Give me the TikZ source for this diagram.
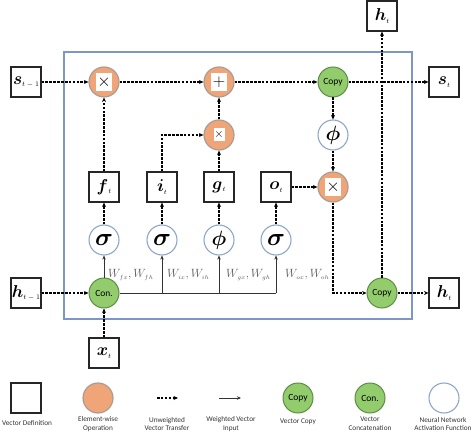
\documentclass[tikz,border=0pt]{standalone}
\usepackage{amsmath}
\usepackage{fontspec}
\newfontfamily\carl{Carlito}
\usetikzlibrary{arrows.meta}
\definecolor{ewfill}{HTML}{F0A578}
\definecolor{ewdraw}{HTML}{A89C94}
\definecolor{cpfill}{HTML}{92CC6C}
\definecolor{cpdraw}{HTML}{5E8C45}
\definecolor{actdraw}{HTML}{8EA6C8}
\definecolor{cellblue}{HTML}{7D95C8}
\definecolor{wgray}{HTML}{5A5A5A}
\newcommand\vb[2]{{\LARGE$\boldsymbol{#1}$}\raisebox{-2.5pt}{\scriptsize$#2$}}
\tikzset{
  vec/.style={draw=black!85, line width=1.2pt, fill=white, minimum size=30bp, inner sep=0pt},
  ew/.style={circle, draw=ewdraw, line width=1.2pt, fill=ewfill, minimum size=30bp, inner sep=0pt},
  wbox/.style={fill=white, inner sep=0pt, minimum width=16bp, minimum height=18bp},
  wsmall/.style={fill=white, inner sep=0pt, minimum width=11bp, minimum height=13bp},
  cp/.style={circle, draw=cpdraw, line width=1pt, fill=cpfill, minimum size=30bp, inner sep=0pt, font=\carl\fontsize{9.5}{9.5}\selectfont},
  act/.style={circle, draw=actdraw, line width=1.1pt, fill=white, minimum size=30bp, inner sep=0pt},
  dsh/.style={line width=1.2pt, dash pattern=on 2.6pt off 1.3pt, -{Stealth[length=4.5pt,width=4pt]}},
  wt/.style={line width=0.8pt, black!80, -{Stealth[length=4pt,width=3.5pt]}},
  wline/.style={line width=0.8pt, black!80},
  wl/.style={text=wgray, anchor=west, inner sep=0pt, font=\large},
  lg/.style={align=center, text=black!80, font=\carl\fontsize{7.3}{9}\selectfont, inner sep=0pt}
}
\begin{document}
\begin{tikzpicture}[x=1bp,y=-1bp]
\useasboundingbox (0,0) rectangle (474,434);
% cell boundary
\draw[cellblue, line width=1.1pt] (64,52) rectangle (412,319);

% vectors
\node[vec] (st1) at (26,82) {\vb{s}{t-1}};
\node[vec] (st) at (444,82) {\vb{s}{t}};
\node[vec] (htop) at (382,16) {\vb{h}{t}};
\node[vec] (htm1) at (26,293) {\vb{h}{t-1}};
\node[vec] (ht) at (444,293) {\vb{h}{t}};
\node[vec] (xt) at (104,353) {\vb{x}{t}};
\node[vec] (ft) at (104,187) {\vb{f}{t}};
\node[vec] (it) at (162,187) {\vb{i}{t}};
\node[vec] (gt) at (219,187) {\vb{g}{t}};
\node[vec] (ot) at (276,187) {\vb{o}{t}};

% element-wise operations
\node[ew] (m1) at (104,82) {};
\node[wbox] (m1s) at (m1) {\LARGE$\times$};
\node[ew] (ad) at (219,82) {};
\node[wbox] (ads) at (ad) {\LARGE$+$};
\node[ew] (mg) at (219,135) {};
\node[wsmall] (mgs) at (mg) {\large$\times$};
\node[ew] (mo) at (333,187) {};
\node[wbox] (mos) at (mo) {\LARGE$\times$};

% copy / concatenation
\node[cp] (cp1) at (333,82) {Copy};
\node[cp] (cb) at (382,293) {Copy};
\node[cp] (con) at (104,293) {Con.};

% activations
\node[act] (ph) at (333,135) {\huge$\boldsymbol{\phi}$};
\node[act] (a1) at (104,240) {\Huge$\boldsymbol{\sigma}$};
\node[act] (a2) at (162,240) {\Huge$\boldsymbol{\sigma}$};
\node[act] (a3) at (219,240) {\huge$\boldsymbol{\phi}$};
\node[act] (a4) at (276,240) {\Huge$\boldsymbol{\sigma}$};

% weighted inputs
\draw[wline] (con.east) -- (a4 |- con);
\draw[wt] (con) -- (a1);
\draw[wt] (a2 |- con) -- (a2);
\draw[wt] (a3 |- con) -- (a3);
\draw[wt] (a4 |- con) -- (a4);
\node[wl] (w1) at (108,275) {$W_{\scriptscriptstyle fx},W_{\scriptscriptstyle fh}$};
\node[wl] (w2) at (167,275) {$W_{\scriptscriptstyle ix},W_{\scriptscriptstyle ih}$};
\node[wl] (w3) at (226,275) {$W_{\scriptscriptstyle gx},W_{\scriptscriptstyle gh}$};
\node[wl] (w4) at (285,275) {$W_{\scriptscriptstyle ox},W_{\scriptscriptstyle oh}$};

% unweighted transfers
\draw[dsh] (st1) -- (m1);
\draw[dsh] (m1) -- (ad);
\draw[dsh] (ad) -- (cp1);
\draw[dsh] (cp1) -- (st);
\draw[dsh] (ft) -- (m1);
\draw[dsh] (it) |- (mg);
\draw[dsh] (gt) -- (mg);
\draw[dsh] (mg) -- (ad);
\draw[dsh] (cp1) -- (ph);
\draw[dsh] (ph) -- (mo);
\draw[dsh] (ot) -- (mo);
\draw[dsh] (mo) |- (cb);
\draw[dsh] (cb) -- (ht);
\draw[dsh] (cb) -- (htop);
\draw[dsh] (a1) -- (ft);
\draw[dsh] (a2) -- (it);
\draw[dsh] (a3) -- (gt);
\draw[dsh] (a4) -- (ot);
\draw[dsh] (htm1) -- (con);
\draw[dsh] (xt) -- (con);

% legend
\node[vec] (L1) at (26,398) {};
\node[ew] (L2) at (98,398) {};
\coordinate (L3a) at (157,398);
\coordinate (L3b) at (178,398);
\draw[dsh] (L3a) -- (L3b);
\coordinate (L4a) at (219,398);
\coordinate (L4b) at (241,398);
\draw[wt] (L4a) -- (L4b);
\node[cp] (L5) at (298,398) {Copy};
\node[cp] (L6) at (370,398) {Con.};
\node[act] (L7) at (444,398) {};
\node[lg] (T1) at (27,423) {Vector Definition};
\node[lg] (T2) at (98,424) {Element-wise\\Operation};
\node[lg] (T3) at (167,424) {Unweighted\\Vector Transfer};
\node[lg] (T4) at (231,424) {Weighted Vector\\Input};
\node[lg] (T5) at (298,422) {Vector Copy};
\node[lg] (T6) at (370,424) {Vector\\Concatenation};
\node[lg] (T7) at (443,424) {Neural Network\\Activation Function};
\end{tikzpicture}
\end{document}
